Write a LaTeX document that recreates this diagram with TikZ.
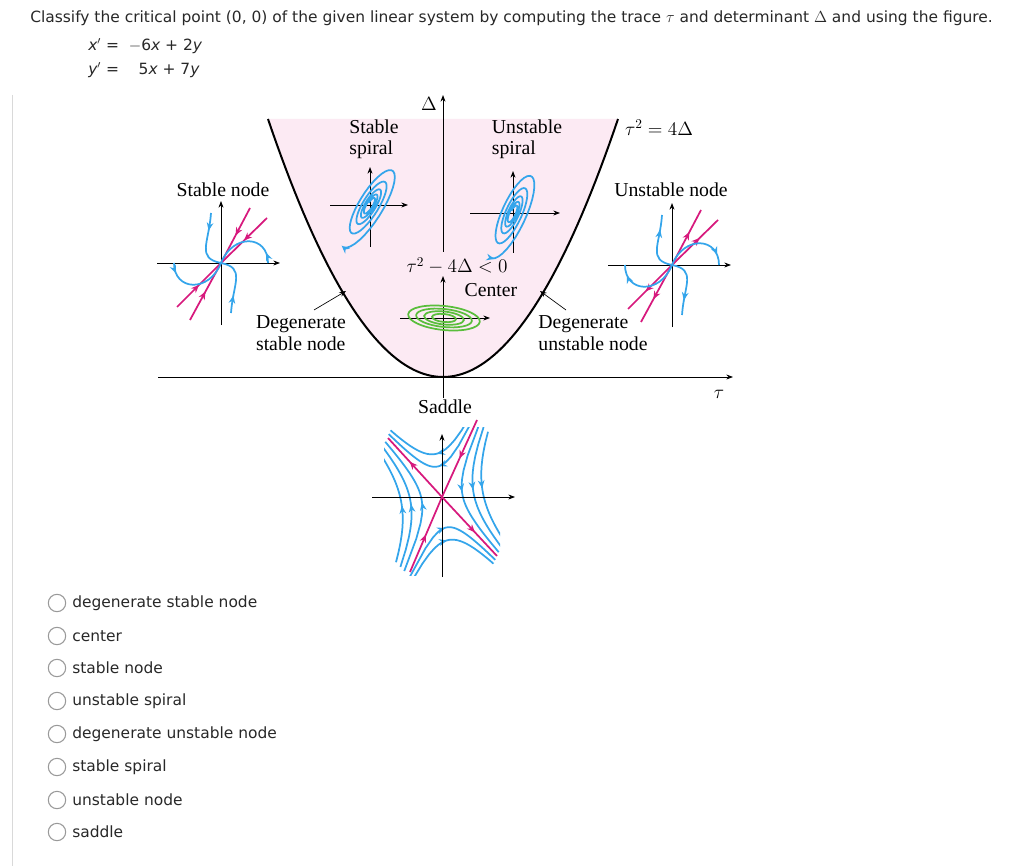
\documentclass[tikz,border=0pt]{standalone}
\usepackage{fontspec}
\setmainfont{Liberation Serif}
\newfontfamily\qfont{DejaVu Sans}
\usetikzlibrary{arrows.meta,decorations.markings}
\definecolor{pblue}{RGB}{52,165,235}
\definecolor{pmag}{RGB}{215,25,125}
\definecolor{pgreen}{RGB}{90,190,60}
\definecolor{ppink}{RGB}{252,234,243}
\definecolor{qtext}{RGB}{40,40,40}
\tikzset{
  qtxt/.style={font=\qfont\fontsize{11.6}{13}\selectfont, text=qtext, anchor=west, inner sep=0pt},
  lbl/.style={font=\fontsize{14.8}{16}\selectfont, align=left, inner sep=0pt},
  axis/.style={line width=0.7pt, -{Stealth[length=5pt]}},
  bl/.style={pblue, line width=1.3pt},
  mg/.style={pmag, line width=1.3pt},
  marr/.style={postaction={decorate}, decoration={markings, mark=at position #1 with {\arrow{Stealth[length=6pt,width=5pt]}}}},
  radio/.style={draw=gray!80, line width=0.8pt, circle, minimum size=13pt, inner sep=0pt}
}
\begin{document}
\begin{tikzpicture}[x=0.75pt,y=-0.75pt]
\useasboundingbox (0,0) rectangle (1024,866);
\fill[white] (0,0) rectangle (1024,866);
\draw[gray!30] (12,95) -- (12,866);
% question
\node[qtxt] (q) at (30,18) {Classify the critical point (0, 0) of the given linear system by computing the trace $\tau$ and determinant $\Delta$ and using the figure.};
\node[qtxt] (e1) at (88,46) {{\itshape x}$'$ = \ $-$6{\itshape x} + 2{\itshape y}};
\node[qtxt] (e2) at (88,70) {{\itshape y}$'$ = \ \ \ 5{\itshape x} + 7{\itshape y}};
% pink region
\fill[ppink] (268,119) -- plot[domain=268:618,samples=80] (\x,{377-258*((\x-443)/175)^2}) -- (618,119) -- cycle;
\draw[line width=1.5pt] plot[domain=268:618,samples=80] (\x,{377-258*((\x-443)/175)^2});
% main axes
\coordinate (tl) at (158,377); \coordinate (tr) at (733,377);
\coordinate (db) at (443,398); \coordinate (dm) at (443,350);
\coordinate (dl) at (443,252); \coordinate (dt) at (443,95);
\draw[axis] (tl) -- (tr);
\draw[line width=0.7pt] (db) -- (dm);
\draw[axis] (dl) -- (dt);
\node[lbl] (delta) at (429,104) {$\Delta$};
\node[lbl] (tau) at (719,394) {$\tau$};
\node[lbl] (lss) at (374,139) {Stable\\spiral};
\node[lbl] (lus) at (527,139) {Unstable\\spiral};
\node[lbl] (lpar) at (659,128) {$\tau^2 = 4\Delta$};
\node[lbl] (lsn) at (223,190) {Stable node};
\node[lbl] (lun) at (671,190) {Unstable node};
\node[lbl] (lcen) at (457,266) {$\tau^2 - 4\Delta <0$};
\node[lbl] (lc2) at (491,290) {Center};
\node[lbl] (ldsn) at (301,333) {Degenerate\\stable node};
\node[lbl] (ldun) at (593,333) {Degenerate\\unstable node};
\node[lbl] (lsad) at (445,407) {Saddle};
\coordinate (p1) at (346,291); \coordinate (p2) at (540,291);
\draw[-{Stealth[length=5pt]}, line width=0.5pt] (314,310) -- (p1);
\draw[-{Stealth[length=5pt]}, line width=0.5pt] (566,310) -- (p2);
% stable node
\begin{scope}[shift={(221,263)}]
 \draw[axis] (0,62) -- (0,-62); \draw[axis] (-64,0) -- (59,0);
 \draw[mg,marr=0.5] (-44,44) -- (0,0); \draw[mg,marr=0.5] (29,-55) -- (0,0);
 \draw[mg,marr=0.5] (-31,57) -- (0,0); \draw[mg,marr=0.5] (46,-45) -- (0,0);
 \draw[bl,marr=0.3] (-10,-50) .. controls (-12,-20) and (-25,-5) .. (0,0);
 \draw[bl,marr=0.3] (10,50) .. controls (12,20) and (25,5) .. (0,0);
 \draw[bl,marr=0.15] (47,0) .. controls (47,-28) and (12,-30) .. (0,0);
 \draw[bl,marr=0.15] (-47,0) .. controls (-47,28) and (-12,30) .. (0,0);
\end{scope}
% unstable node
\begin{scope}[shift={(672,265)}]
 \draw[axis] (0,62) -- (0,-62); \draw[axis] (-64,0) -- (59,0);
 \draw[mg,marr=0.6] (0,0) -- (-44,44); \draw[mg,marr=0.6] (0,0) -- (29,-55);
 \draw[mg,marr=0.6] (0,0) -- (-31,57); \draw[mg,marr=0.6] (0,0) -- (46,-45);
 \draw[bl,marr=0.75] (0,0) .. controls (-25,-5) and (-12,-20) .. (-10,-50);
 \draw[bl,marr=0.75] (0,0) .. controls (25,5) and (12,20) .. (10,50);
 \draw[bl,marr=0.85] (0,0) .. controls (12,-30) and (47,-28) .. (47,0);
 \draw[bl,marr=0.85] (0,0) .. controls (-12,30) and (-47,28) .. (-47,0);
\end{scope}
% stable spiral
\begin{scope}[shift={(370,205)}]
 \draw[axis] (0,42) -- (0,-38); \draw[axis] (-40,0) -- (38,0);
 \begin{scope}[rotate=58]
  \draw[bl] plot[domain=0:17,samples=160] ({-50*exp(-\x/9)*cos(100*\x)},{15*exp(-\x/9)*sin(100*\x)});
  \draw[bl,-{Stealth[length=6pt,width=5pt]}] (-50,0) -- (-49.5,-2.5);
 \end{scope}
\end{scope}
% unstable spiral
\begin{scope}[shift={(513,213)}]
 \draw[axis] (0,40) -- (0,-42); \draw[axis] (-43,0) -- (47,0);
 \begin{scope}[rotate=65]
  \draw[bl] plot[domain=0:17,samples=160] ({-50*exp(-\x/9)*cos(100*\x)},{15*exp(-\x/9)*sin(100*\x)});
  \draw[bl,-{Stealth[length=6pt,width=5pt]}] (-50,0) -- (-49.5,2.5);
 \end{scope}
\end{scope}
% center
\begin{scope}[shift={(440,318)}]
 \draw[axis] (3,33) -- (3,-42); \draw[axis] (-40,0) -- (50,0);
 \begin{scope}[shift={(4,0)},rotate=-6]
  \foreach \a/\b in {36/12,28/9,20/6.5,12/4}{\draw[pgreen,line width=1.3pt] (0,0) ellipse ({\a*0.75pt} and {\b*0.75pt});}
 \end{scope}
\end{scope}
% saddle
\begin{scope}[shift={(442,497)}]
 \begin{scope}
 \clip (-58,-70) rectangle (58,78);
 \foreach \c in {0.05,0.12,0.2}{
  \draw[bl,marr=0.5] plot[domain=\c:1,samples=30] ({55*\x+35*\c/\x},{59*\x-77*\c/\x});
  \draw[bl,marr=0.5] plot[domain=-\c:-1,samples=30] ({55*\x+35*\c/\x},{59*\x-77*\c/\x});
 }
 \foreach \c in {0.05,0.1}{
  \draw[bl,marr=0.5] plot[domain=\c:1,samples=30] ({55*\x-35*\c/\x},{59*\x+77*\c/\x});
  \draw[bl,marr=0.5] plot[domain=-\c:-1,samples=30] ({55*\x-35*\c/\x},{59*\x+77*\c/\x});
 }
 \end{scope}
 \draw[axis] (0,80) -- (0,-63); \draw[axis] (-70,0) -- (73,0);
 \draw[mg,marr=0.6] (0,0) -- (-54,-59); \draw[mg,marr=0.6] (0,0) -- (55,59);
 \draw[mg,marr=0.5] (35,-77) -- (0,0); \draw[mg,marr=0.5] (-32,75) -- (0,0);
\end{scope}
% options
\foreach \y/\t [count=\i] in {603/degenerate stable node,636/center,668/stable node,701/unstable spiral,734/degenerate unstable node,767/stable spiral,800/unstable node,832/saddle}{
 \node[radio] (r\i) at (57,\y) {};
 \node[qtxt] (o\i) at (72,\y) {\t};
}
\end{tikzpicture}
\end{document}
